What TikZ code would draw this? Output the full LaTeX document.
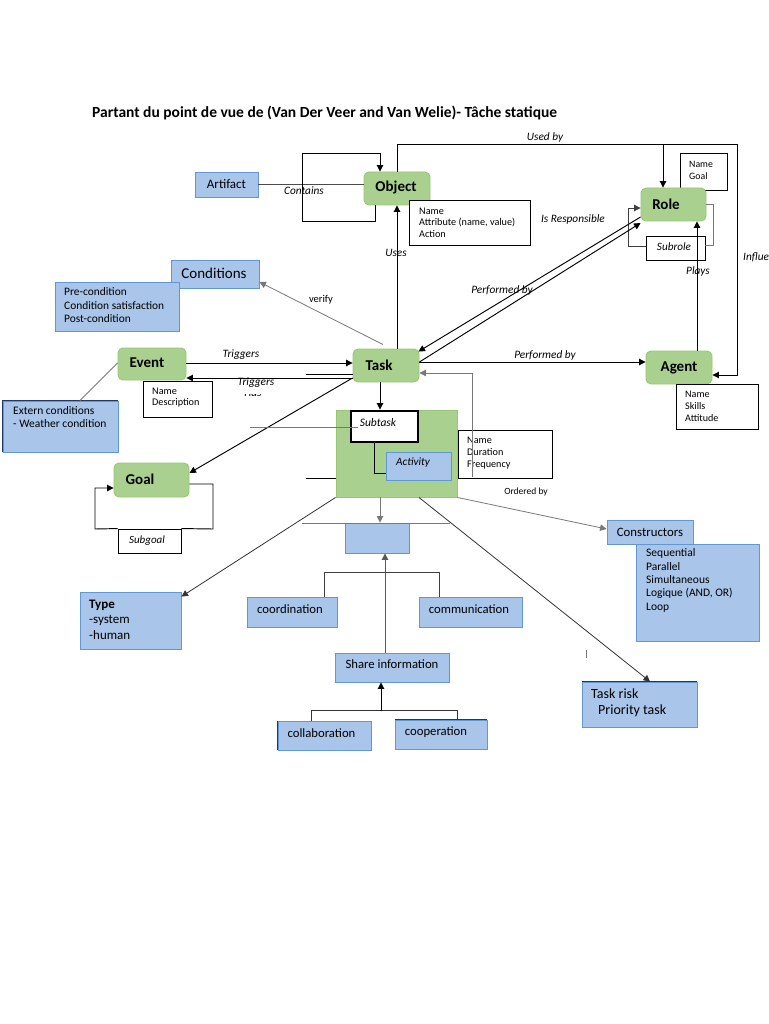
\documentclass[tikz,border=0pt]{standalone}
\usepackage{fontspec}
\setmainfont{Carlito}
\usetikzlibrary{arrows.meta,calc}
\definecolor{bfill}{RGB}{169,197,234}
\definecolor{bline}{RGB}{95,152,212}
\definecolor{gfill}{RGB}{169,208,142}
\definecolor{gline}{RGB}{150,200,115}
\definecolor{darkb}{RGB}{31,56,100}
\definecolor{glin}{RGB}{120,120,120}
\newcommand\myfs[2]{\fontsize{#1}{#2}\selectfont}
\tikzset{
  bbox/.style={draw=bline, fill=bfill, line width=0.9pt, inner sep=0pt},
  gbox/.style={draw=gline, fill=gfill, rounded corners=5pt, line width=0.9pt, inner sep=0pt},
  gsq/.style={draw=gline, fill=gfill, line width=0.9pt, inner sep=0pt},
  wbox/.style={draw=black, fill=white, line width=0.9pt, inner sep=0pt},
  gtxt/.style={inner sep=0pt, font=\myfs{15}{18}\bfseries},
  lab/.style={inner sep=0pt, font=\myfs{11.3}{13}\itshape},
  txt/.style={inner sep=0pt, align=left, anchor=west},
  ln/.style={draw=black, line width=0.95pt},
  gln/.style={draw=glin, line width=0.8pt},
  tln/.style={draw=black!80, line width=0.8pt},
  arr/.style={-{Triangle[length=6.5pt,width=6.5pt]}},
}
\begin{document}
\begin{tikzpicture}[x=1pt,y=-1pt]
\useasboundingbox (0,0) rectangle (768,1024);
\fill[white] (0,0) rectangle (768,1024);

% title
\node[inner sep=0pt, anchor=west, font=\myfs{15.5}{18}\bfseries] (title) at (92,113) {Partant du point de vue de (Van Der Veer and Van Welie)- Tâche statique};

% ---------- nodes ----------
\node[bbox, minimum width=63pt, minimum height=25pt, font=\myfs{13}{15}] (artifact) at (226.5,184.5) {Artifact};
\node[gbox, minimum width=66pt, minimum height=33pt] (object) at (397,188.5) {};
\node[gtxt] (object-t) at (396,188) {Object};
\node[wbox, minimum width=121pt, minimum height=45pt] (objinfo) at (469.5,222.5) {};
\node[txt, font=\myfs{10.2}{11.7}] (objinfo-t) at (419,222.5) {Name\\Attribute (name, value)\\Action};

\node[wbox, minimum width=47pt, minimum height=37pt] (roleinfo) at (703.5,171.5) {};
\node[txt, font=\myfs{9.8}{12}] (roleinfo-t) at (689,170) {Name\\Goal};
\node[gbox, minimum width=65pt, minimum height=33pt] (role) at (673.5,204.5) {};
\node[gtxt] (role-t) at (666,204) {Role};
\node[wbox, minimum width=59pt, minimum height=24pt] (subrole) at (675.5,248) {};
\node[inner sep=0pt, font=\myfs{11.2}{13}\itshape] (subrole-t) at (674,247) {Subrole};

\node[gbox, minimum width=66pt, minimum height=33pt] (agent) at (679,367.5) {};
\node[gtxt] (agent-t) at (679,368) {Agent};
\node[wbox, minimum width=82pt, minimum height=45pt] (agentinfo) at (717,406.5) {};
\node[txt, font=\myfs{10.1}{12}] (agentinfo-t) at (685,406) {Name\\Skills\\Attitude};

\node[gbox, minimum width=66pt, minimum height=33pt] (task) at (386,365.5) {};
\node[gtxt] (task-t) at (379,365) {Task};

\node[bbox, minimum width=88pt, minimum height=28pt] (conditions) at (215,274) {};
\node[inner sep=0pt, font=\myfs{15}{17}] (conditions-t) at (214,273) {Conditions};
\node[bbox, minimum width=124pt, minimum height=49pt] (condlist) at (117,306.5) {};
\node[txt, font=\myfs{11.4}{13.5}] (condlist-t) at (64,305.5) {Pre-condition\\Condition satisfaction\\Post-condition};

\node[gbox, minimum width=68pt, minimum height=32pt] (event) at (152,364) {};
\node[gtxt] (event-t) at (147,363) {Event};
\node[wbox, minimum width=69pt, minimum height=36pt] (eventinfo) at (177.5,399) {};
\node[txt, font=\myfs{10.2}{11.7}] (eventinfo-t) at (152,397.5) {Name\\Description};
\node[bbox, minimum width=115pt, minimum height=51pt] (extern) at (60.5,426.5) {};
\node[txt, font=\myfs{11.5}{13}] (extern-t) at (13,417.5) {Extern conditions\\- Weather condition};

\node[gbox, minimum width=75pt, minimum height=34pt] (goal) at (151.5,480) {};
\node[gtxt] (goal-t) at (140,479) {Goal};
\node[wbox, minimum width=63pt, minimum height=24pt] (subgoal) at (149.5,541) {};
\node[inner sep=0pt, font=\myfs{11}{13}\itshape] (subgoal-t) at (147,541) {Subgoal};

\node[gsq, minimum width=121pt, minimum height=87pt] (bigbox) at (396.5,453.5) {};
\node[wbox, line width=1.6pt, minimum width=67pt, minimum height=31pt] (subtask) at (384.5,426.5) {};
\node[inner sep=0pt, font=\myfs{11.5}{13}\itshape] (subtask-t) at (378,423) {Subtask};
\node[bbox, minimum width=65pt, minimum height=28pt] (activity) at (418.5,466) {};
\node[inner sep=0pt, font=\myfs{11.2}{13}\itshape] (activity-t) at (413,463) {Activity};
\node[wbox, minimum width=94pt, minimum height=48pt] (taskinfo) at (505,454) {};
\node[txt, font=\myfs{10.2}{12}] (taskinfo-t) at (467,453) {Name\\Duration\\Frequency};

\node[bbox, minimum width=86pt, minimum height=24pt, font=\myfs{12.8}{15}] (constructors) at (650,532) {Constructors};
\node[bbox, minimum width=123pt, minimum height=97pt] (conslist) at (697.5,592.5) {};
\node[txt, font=\myfs{11.5}{13.3}] (conslist-t) at (646,580.5) {Sequential\\Parallel\\Simultaneous\\Logique (AND, OR)\\Loop};

\node[bbox, minimum width=115pt, minimum height=45pt] (taskrisk) at (639.5,704.5) {};
\node[txt, font=\myfs{14}{16}] (taskrisk-t1) at (591,694) {Task risk};
\node[txt, font=\myfs{14}{16}] (taskrisk-t2) at (598,711) {Priority task};

\node[bbox, minimum width=101pt, minimum height=57pt] (type) at (130.5,620.5) {};
\node[txt, font=\myfs{13}{15.5}] (type-t) at (89,619.5) {\textbf{Type}\\-system\\-human};

\node[bbox, minimum width=64pt, minimum height=30pt] (blank) at (377,538) {};
\node[bbox, minimum width=90pt, minimum height=30pt] (coordination) at (292,612) {};
\node[inner sep=0pt, font=\myfs{12.7}{15}] (coordination-t) at (290,609) {coordination};
\node[bbox, minimum width=103pt, minimum height=30pt] (communication) at (470.5,612) {};
\node[inner sep=0pt, font=\myfs{12.7}{15}] (communication-t) at (469,609) {communication};
\node[bbox, minimum width=114pt, minimum height=29pt] (share) at (392,667.5) {};
\node[inner sep=0pt, font=\myfs{12.7}{15}] (share-t) at (392,664) {Share information};
\node[bbox, minimum width=93pt, minimum height=29pt] (collaboration) at (324.5,735.5) {};
\node[inner sep=0pt, font=\myfs{12.7}{15}] (collaboration-t) at (321.5,733) {collaboration};
\node[bbox, minimum width=92pt, minimum height=29pt] (cooperation) at (441,734.5) {};
\node[inner sep=0pt, font=\myfs{12.7}{15}] (cooperation-t) at (436,732) {cooperation};

% dark edges
\draw[darkb, line width=1.3pt] (extern.south west) -- (extern.north west) -- (extern.north east);
\draw[darkb, line width=1.3pt] (taskrisk.north west) -- (taskrisk.north east);
\draw[darkb, line width=1.5pt] (collaboration.south west) -- (collaboration.north west);
\draw[darkb, line width=1.3pt] (cooperation.north west) -- (cooperation.north east);

% ---------- labels ----------
\node[lab] (l-contains) at (304,191) {Contains};
\node[lab] (l-uses) at (396,253) {Uses};
\node[lab] (l-usedby) at (545,137) {Used by};
\node[lab] (l-resp) at (573,219) {Is Responsible};
\node[lab] (l-perf1) at (502,290) {Performed by};
\node[lab] (l-plays) at (698,271) {Plays};
\node[lab, anchor=west] (l-influe) at (743,257) {Influe};
\node[lab] (l-perf2) at (545,355) {Performed by};
\node[lab] (l-trig1) at (241,355) {Triggers};
\node[lab] (l-trig2) at (256,383) {Triggers};
\begin{scope}
  \clip (235,394.5) rectangle (275,402);
  \node[lab] (l-has) at (253,393) {Has};
\end{scope}
\node[inner sep=0pt, font=\myfs{10.5}{12}] (l-verify) at (321,300) {verify};
\node[inner sep=0pt, font=\myfs{9.5}{11}] (l-ordered) at (526,492) {Ordered by};

% ---------- connectors ----------
\draw[draw=black!70, line width=0.9pt] (artifact.east) -- (artifact.east -| object.west);
\draw[ln,arr] ([xshift=-22pt]object.south) -- (375,221) -- (302,221) -- (302,153) -- (380,153) -- ([xshift=-17pt]object.north);
\draw[ln,arr] (task.north -| object.south) -- (object.south);
\draw[ln,arr] (object.north) -- (397,144) -- (737,144) -- (737,375) -- ([yshift=-7.5pt]agent.east);
\coordinate (ub) at (663,144);
\draw[ln,arr] (ub) -- ([xshift=-10.5pt]role.north);
\draw[ln,draw=black!75,arr] ([yshift=2pt]subrole.west) -- (628,246) -- (628,208) -- ([yshift=-3.5pt]role.west);
\draw[gln] ([yshift=0.5pt]role.east) -- (713,204) -- (713,245) -- ([yshift=3pt]subrole.east);
\draw[ln,arr] ([yshift=-12.5pt]role.west) -- ([xshift=-1pt,yshift=-3pt]task.north east);
\draw[ln,arr] ([yshift=3.5pt]task.east) -- ([yshift=-18.5pt]role.west);
\draw[ln,arr] ([xshift=18pt]agent.north) -- ([xshift=18pt]agent.north |- role.south);
\draw[ln,arr] ([yshift=3.5pt]task.east) -- ([yshift=3.5pt]task.east -| agent.west);
\draw[gln,arr] ([xshift=-3pt,yshift=4pt]task.north) -- ([yshift=-8pt]conditions.east);
\draw[ln,arr] ([yshift=1pt]event.east) -- ([yshift=1pt]event.east -| task.west);
\draw[ln,arr] ([yshift=-12.5pt]task.west) -- ([yshift=-12.5pt]task.west -| event.east);
\draw[ln] ([yshift=-8.5pt]task.west) -- ++(-47,0);
\draw[gln] ([yshift=1pt]event.west) -- ([xshift=19.5pt]extern.north);
\draw[ln,arr] ([yshift=-12.5pt]task.west) -- ([yshift=7pt]goal.east);
\draw[ln] ([yshift=-4pt]goal.east) -- (213,484) -- (213,529) -- (subgoal.north east);
\draw[ln,arr] (subgoal.north west) -- (95,529) -- (95,488) -- ([yshift=-8pt]goal.west);
\draw[ln,arr] ([xshift=-6pt]task.south) -- ([xshift=-6pt]task.south |- bigbox.north);
\coordinate (g1) at (250,427);
\draw[gln] (g1) -- (358,427);
\draw[ln] ([xshift=-10pt]subtask.south) |- ([yshift=-7pt]activity.west);
\draw[ln] ([yshift=-24.5pt]bigbox.west) -- ++(-30,0);
\coordinate (g2) at (472,477);
\draw[gln,arr] (g2) |- ([yshift=-7.5pt]task.east);
\draw[gln,arr] (bigbox.south east) -- ([yshift=3pt]constructors.west);
\draw[tln,arr] ([xshift=22.5pt]bigbox.south) -- ([xshift=10.5pt]taskrisk.north);
\draw[gln] (586,650) -- (586,658);
\draw[tln,arr] (bigbox.south west) -- ([yshift=-5pt]type.north east);
\draw[gln] (302,523) -- (450,523);
\draw[gln,arr] ([xshift=-16.5pt]bigbox.south) -- ([xshift=-16.5pt]bigbox.south |- blank.north);
\draw[ln,draw=black!65,arr] ([xshift=-7pt]share.north) -- ([xshift=-7pt]share.north |- blank.south);
\draw[ln,draw=black!75] ([xshift=32pt]coordination.north) -- ++(0,-24) -| ([xshift=-31.5pt]communication.north);
\draw[ln,draw=black!80] ([xshift=-13.5pt]collaboration.north) -- ++(0,-10) -| ([xshift=16pt]cooperation.north);
\coordinate (cc) at (381,711);
\draw[ln,arr] (cc) -- ([xshift=-11pt]share.south);
\end{tikzpicture}
\end{document}
